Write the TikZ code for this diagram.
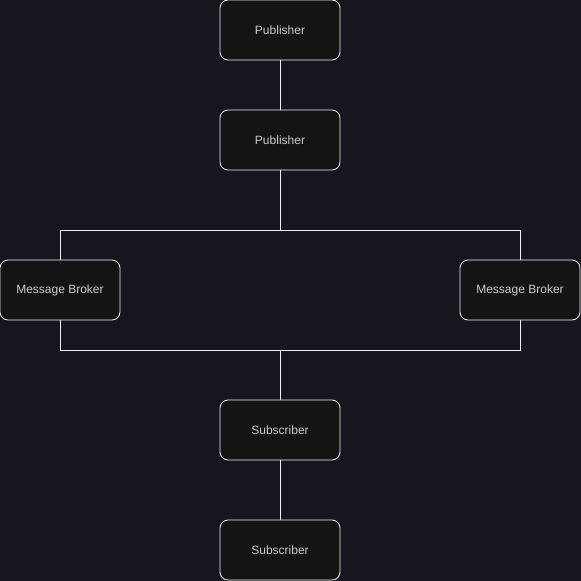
\documentclass[tikz,border=0pt]{standalone}
\usepackage{fontspec}
\setmainfont{Liberation Sans}
\definecolor{bg}{HTML}{18151F}
\definecolor{boxfill}{HTML}{141414}
\definecolor{txt}{HTML}{CCCCCC}
\definecolor{ln}{HTML}{F2F2F2}
\begin{document}
\begin{tikzpicture}[x=1pt,y=-1pt,
  box/.style={draw=ln,fill=boxfill,rounded corners=8pt,minimum width=120pt,minimum height=60pt,inner sep=0pt,text=txt,font=\fontsize{12}{14}\selectfont,line width=0.8pt},
  conn/.style={draw=ln,line width=0.8pt}]
\fill[bg] (0,0) rectangle (581,581);
\useasboundingbox (0,0) rectangle (581,581);
\node[box] (p1) at (280,30) {Publisher};
\node[box] (p2) at (280,140) {Publisher};
\node[box] (b1) at (60,290) {Message Broker};
\node[box] (b2) at (520,290) {Message Broker};
\node[box] (s1) at (280,430) {Subscriber};
\node[box] (s2) at (280,550) {Subscriber};
\coordinate (j1) at (280,230);
\coordinate (j2) at (280,350);
\draw[conn] (p1.south) -- (p2.north);
\draw[conn] (p2.south) -- (j1);
\draw[conn] (j1) -| (b1.north);
\draw[conn] (j1) -| (b2.north);
\draw[conn] (b1.south) |- (j2);
\draw[conn] (b2.south) |- (j2);
\draw[conn] (j2) -- (s1.north);
\draw[conn] (s1.south) -- (s2.north);
\end{tikzpicture}
\end{document}
